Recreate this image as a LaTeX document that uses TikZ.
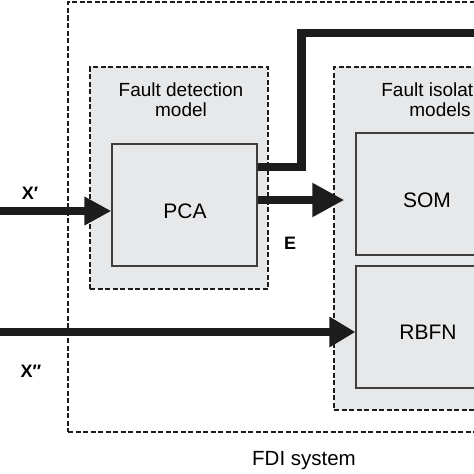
\documentclass[tikz,border=0pt]{standalone}
\usepackage{fontspec}
\setmainfont{Liberation Sans}
\usetikzlibrary{arrows.meta,positioning,calc}
\definecolor{boxgray}{HTML}{E7E8EA}
\definecolor{inkdark}{HTML}{1C1C1C}

\begin{document}
\begin{tikzpicture}[x=1pt,y=-1pt,
  dashbox/.style={draw=inkdark,line width=1.8pt,dash pattern=on 5pt off 2.5pt,inner sep=0pt},
  modelbox/.style={draw=inkdark!85,line width=1.3pt,fill=boxgray,inner sep=0pt,minimum width=145pt,minimum height=122pt,font=\fontsize{20}{22}\selectfont},
  flow/.style={draw=inkdark,line width=8.5pt},
  lbl/.style={font=\fontsize{18}{20}\selectfont\bfseries,inner sep=0pt}]
  \useasboundingbox (0,0) rectangle (474,474);

  % Outer FDI system frame (runs past the right edge)
  \node[dashbox,minimum width=472pt,minimum height=430pt] (FDI) at (304,217) {};
  \node[font=\fontsize{20.5}{22}\selectfont,inner sep=0pt] (FDIlbl) at (304,461) {FDI system};

  % Detection and isolation groups
  \node[dashbox,fill=boxgray,minimum width=178pt,minimum height=222pt] (FD) at (179,178) {};
  \node[dashbox,fill=boxgray,minimum width=212pt,minimum height=343pt] (FI) at (440,238.5) {};
  \node[align=center,font=\fontsize{19}{20}\selectfont,inner sep=0pt] (FDlbl) at (181,100) {Fault detection\\model};
  \node[align=center,font=\fontsize{19}{20}\selectfont,inner sep=0pt] (FIlbl) at (440,100) {Fault isolation\\models};

  % Model blocks
  \node[modelbox] (PCA)  at (184.5,205) {};
  \node[modelbox,minimum width=142pt] (SOM)  at (427,194) {};
  \node[modelbox,minimum width=142pt] (RBFN) at (427,327) {};
  \node[font=\fontsize{21}{22}\selectfont,inner sep=0pt] at (185,211) {PCA};
  \node[font=\fontsize{21}{22}\selectfont,inner sep=0pt] at (427,200) {SOM};
  \node[font=\fontsize{21}{22}\selectfont,inner sep=0pt] at (428,332) {RBFN};

  % Inputs
  \coordinate (Xa) at (0,211);
  \coordinate (Xb) at (0,332);
  \draw[flow,-{Triangle[length=27pt,width=27pt]}] (Xa) -- (Xa -| PCA.west);
  \draw[flow,-{Triangle[length=26pt,width=29pt]}] (Xb) -- (Xb -| RBFN.west);
  \node[lbl] (Xalbl) at (30,193) {X′};
  \node[lbl] (Xblbl) at (31,371) {X″};

  % Residual E to SOM
  \coordinate (Eout) at ($(PCA.east)+(0,-5)$);
  \draw[flow,-{Triangle[length=32pt,width=32pt]},shorten >=11pt] (Eout) -- (Eout -| SOM.west);
  \node[lbl] (Elbl) at (290,243) {E};

  % Detection output leaving the system
  \coordinate (Dout) at ($(PCA.east)+(0,-38)$);
  \coordinate (Dend) at (480,33);
  \draw[flow,line join=miter] (Dout) -- ++(44,0) |- (Dend);
\end{tikzpicture}
\end{document}
